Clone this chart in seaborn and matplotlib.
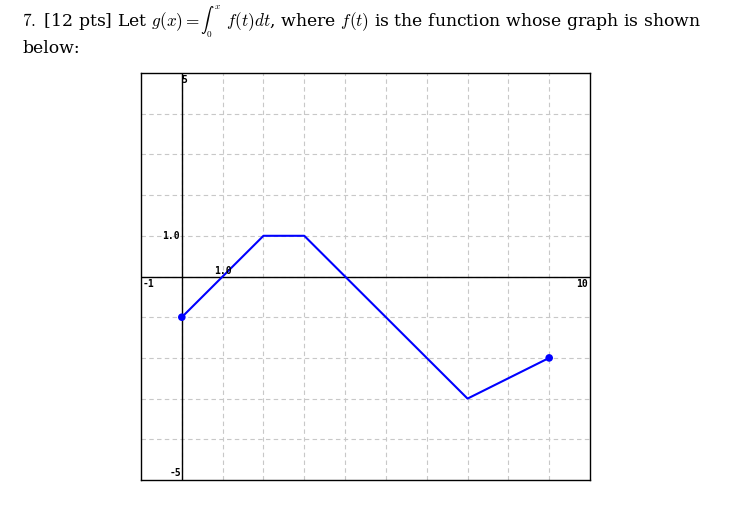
import matplotlib
matplotlib.use("Agg")
import matplotlib.pyplot as plt
import seaborn as sns
import pandas as pd

# points of f(t)
t_vals = [0, 2, 3, 7, 9]
f_vals = [-1, 1, 1, -3, -2]
end_t = [0, 9]
end_f = [-1, -2]

sns.set_style("white")
plt.rcParams["mathtext.fontset"] = "cm"
plt.rcParams["font.family"] = ["DejaVu Serif"]

fig = plt.figure(figsize=(7.30, 5.11), dpi=100)
renderer = fig.canvas.get_renderer()

# header line written in pieces so the integral sign can be kept compact
pieces = [
    (r"$\mathbf{7.}$ [12 pts] Let $g(x) = $", 12.4),
    (r"$\int_0^x$", 9.5),
    (r" $f(t)dt$, where $f(t)$ is the function whose graph is shown", 12.4),
]
x_px = 22
for txt, fs in pieces:
    t = fig.text(x_px / 730, 1 - 26 / 511, txt, fontsize=fs, va="baseline", color="black")
    x_px += t.get_window_extent(renderer).width
fig.text(22 / 730, 1 - 53 / 511, "below:", fontsize=12.4, va="baseline", color="black")

ax = fig.add_axes([141 / 730, 1 - 480 / 511, 449 / 730, 407 / 511])
ax.set_xlim(-1, 10)
ax.set_ylim(-5, 5)
for v in range(0, 10):
    ax.axvline(v, color="#c8c8c8", lw=0.8, ls=(0, (4, 3)), zorder=0)
for v in range(-4, 5):
    ax.axhline(v, color="#c8c8c8", lw=0.8, ls=(0, (4, 3)), zorder=0)
ax.axhline(0, color="black", lw=1, zorder=1)
ax.axvline(0, color="black", lw=1, zorder=1)

df = pd.DataFrame({"t": t_vals, "f": f_vals})
sns.lineplot(data=df, x="t", y="f", ax=ax, color="blue", lw=1.5, sort=False, zorder=3)
sns.scatterplot(x=end_t, y=end_f, ax=ax, color="blue", s=30, edgecolor="none", zorder=4)

ax.set_xticks([])
ax.set_yticks([])
ax.set_xlabel("")
ax.set_ylabel("")
for s in ax.spines.values():
    s.set_color("black")
    s.set_linewidth(1)

lab = dict(fontsize=7, family="DejaVu Sans Mono", fontweight="bold", color="black")
ax.text(-0.95, -0.05, "-1", ha="left", va="top", **lab)
ax.text(9.95, -0.05, "10", ha="right", va="top", **lab)
ax.text(0.0, 4.95, "5", ha="left", va="top", **lab)
ax.text(0.0, -4.95, "-5", ha="right", va="bottom", **lab)
ax.text(-0.05, 1.0, "1.0", ha="right", va="center", **lab)
ax.text(1.0, 0.02, "1.0", ha="center", va="bottom", **lab)

fig.savefig("out.png", dpi=100)
